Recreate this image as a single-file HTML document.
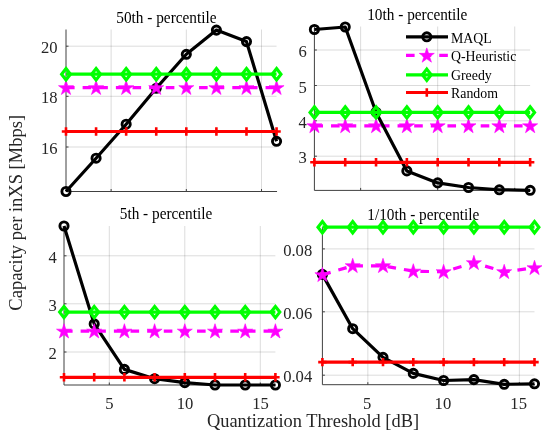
<!DOCTYPE html>
<html><head><meta charset="utf-8"><title>Capacity per inXS</title>
<style>html,body{margin:0;padding:0;background:#fff;overflow:hidden}svg{display:block}text{font-family:"Liberation Serif", "Times New Roman", serif}</style>
</head><body>
<svg width="550" height="433" viewBox="0 0 550 433">
<rect width="550" height="433" fill="#fff"/>
<line x1="111.12" y1="29.5" x2="111.12" y2="191.5" stroke="#000" stroke-opacity="0.14" stroke-width="1"/>
<line x1="186.32" y1="29.5" x2="186.32" y2="191.5" stroke="#000" stroke-opacity="0.14" stroke-width="1"/>
<line x1="261.52" y1="29.5" x2="261.52" y2="191.5" stroke="#000" stroke-opacity="0.14" stroke-width="1"/>
<line x1="66" y1="46.2" x2="276.56" y2="46.2" stroke="#000" stroke-opacity="0.14" stroke-width="1"/>
<line x1="66" y1="96.3" x2="276.56" y2="96.3" stroke="#000" stroke-opacity="0.14" stroke-width="1"/>
<line x1="66" y1="147" x2="276.56" y2="147" stroke="#000" stroke-opacity="0.14" stroke-width="1"/>
<path d="M66 29.5V191.5H277.06" fill="none" stroke="#404040" stroke-width="1"/>
<line x1="111.12" y1="191.5" x2="111.12" y2="189" stroke="#404040" stroke-width="1"/>
<line x1="186.32" y1="191.5" x2="186.32" y2="189" stroke="#404040" stroke-width="1"/>
<line x1="261.52" y1="191.5" x2="261.52" y2="189" stroke="#404040" stroke-width="1"/>
<line x1="66" y1="46.2" x2="68.5" y2="46.2" stroke="#404040" stroke-width="1"/>
<text transform="translate(57.5 53.2) scale(1 1.07)" font-size="16.6" text-anchor="end" fill="#262626">20</text>
<line x1="66" y1="96.3" x2="68.5" y2="96.3" stroke="#404040" stroke-width="1"/>
<text transform="translate(57.5 103.3) scale(1 1.07)" font-size="16.6" text-anchor="end" fill="#262626">18</text>
<line x1="66" y1="147" x2="68.5" y2="147" stroke="#404040" stroke-width="1"/>
<text transform="translate(57.5 154) scale(1 1.07)" font-size="16.6" text-anchor="end" fill="#262626">16</text>
<text transform="translate(166.4 23) scale(1 1.07)" font-size="15.3" text-anchor="middle" fill="#000">50th - percentile</text>
<path d="M66 191.5L96.08 158.2L126.16 124.2L156.24 88.3L186.32 54.3L216.4 30.1L246.48 41.6L276.56 141.3" fill="none" stroke="#000" stroke-width="3.2" stroke-linejoin="round"/>
<circle cx="66" cy="191.5" r="4.1" fill="none" stroke="#000" stroke-width="2.9"/>
<circle cx="96.08" cy="158.2" r="4.1" fill="none" stroke="#000" stroke-width="2.9"/>
<circle cx="126.16" cy="124.2" r="4.1" fill="none" stroke="#000" stroke-width="2.9"/>
<circle cx="156.24" cy="88.3" r="4.1" fill="none" stroke="#000" stroke-width="2.9"/>
<circle cx="186.32" cy="54.3" r="4.1" fill="none" stroke="#000" stroke-width="2.9"/>
<circle cx="216.4" cy="30.1" r="4.1" fill="none" stroke="#000" stroke-width="2.9"/>
<circle cx="246.48" cy="41.6" r="4.1" fill="none" stroke="#000" stroke-width="2.9"/>
<circle cx="276.56" cy="141.3" r="4.1" fill="none" stroke="#000" stroke-width="2.9"/>
<path d="M66 87.7L96.08 87.7L126.16 87.7L156.24 87.7L186.32 87.7L216.4 87.7L246.48 87.7L276.56 87.7" fill="none" stroke="#ff00ff" stroke-width="3.2" stroke-linejoin="round" stroke-dasharray="8.6 8.03"/>
<polygon points="66,80.2 67.77,85.66 73.51,85.66 68.87,89.03 70.64,94.49 66,91.12 61.36,94.49 63.13,89.03 58.49,85.66 64.23,85.66" fill="#ff00ff" stroke="#ff00ff" stroke-width="0.6"/>
<polygon points="96.08,80.2 97.85,85.66 103.59,85.66 98.95,89.03 100.72,94.49 96.08,91.12 91.44,94.49 93.21,89.03 88.57,85.66 94.31,85.66" fill="#ff00ff" stroke="#ff00ff" stroke-width="0.6"/>
<polygon points="126.16,80.2 127.93,85.66 133.67,85.66 129.03,89.03 130.8,94.49 126.16,91.12 121.52,94.49 123.29,89.03 118.65,85.66 124.39,85.66" fill="#ff00ff" stroke="#ff00ff" stroke-width="0.6"/>
<polygon points="156.24,80.2 158.01,85.66 163.75,85.66 159.11,89.03 160.88,94.49 156.24,91.12 151.6,94.49 153.37,89.03 148.73,85.66 154.47,85.66" fill="#ff00ff" stroke="#ff00ff" stroke-width="0.6"/>
<polygon points="186.32,80.2 188.09,85.66 193.83,85.66 189.19,89.03 190.96,94.49 186.32,91.12 181.68,94.49 183.45,89.03 178.81,85.66 184.55,85.66" fill="#ff00ff" stroke="#ff00ff" stroke-width="0.6"/>
<polygon points="216.4,80.2 218.17,85.66 223.91,85.66 219.27,89.03 221.04,94.49 216.4,91.12 211.76,94.49 213.53,89.03 208.89,85.66 214.63,85.66" fill="#ff00ff" stroke="#ff00ff" stroke-width="0.6"/>
<polygon points="246.48,80.2 248.25,85.66 253.99,85.66 249.35,89.03 251.12,94.49 246.48,91.12 241.84,94.49 243.61,89.03 238.97,85.66 244.71,85.66" fill="#ff00ff" stroke="#ff00ff" stroke-width="0.6"/>
<polygon points="276.56,80.2 278.33,85.66 284.07,85.66 279.43,89.03 281.2,94.49 276.56,91.12 271.92,94.49 273.69,89.03 269.05,85.66 274.79,85.66" fill="#ff00ff" stroke="#ff00ff" stroke-width="0.6"/>
<path d="M66 74.2L96.08 74.2L126.16 74.2L156.24 74.2L186.32 74.2L216.4 74.2L246.48 74.2L276.56 74.2" fill="none" stroke="#00ff00" stroke-width="3.2" stroke-linejoin="round"/>
<path d="M66 68.55L70.4 74.2L66 79.85L61.6 74.2Z" fill="none" stroke="#00ff00" stroke-width="3.15" stroke-linejoin="miter"/>
<path d="M96.08 68.55L100.48 74.2L96.08 79.85L91.68 74.2Z" fill="none" stroke="#00ff00" stroke-width="3.15" stroke-linejoin="miter"/>
<path d="M126.16 68.55L130.56 74.2L126.16 79.85L121.76 74.2Z" fill="none" stroke="#00ff00" stroke-width="3.15" stroke-linejoin="miter"/>
<path d="M156.24 68.55L160.64 74.2L156.24 79.85L151.84 74.2Z" fill="none" stroke="#00ff00" stroke-width="3.15" stroke-linejoin="miter"/>
<path d="M186.32 68.55L190.72 74.2L186.32 79.85L181.92 74.2Z" fill="none" stroke="#00ff00" stroke-width="3.15" stroke-linejoin="miter"/>
<path d="M216.4 68.55L220.8 74.2L216.4 79.85L212 74.2Z" fill="none" stroke="#00ff00" stroke-width="3.15" stroke-linejoin="miter"/>
<path d="M246.48 68.55L250.88 74.2L246.48 79.85L242.08 74.2Z" fill="none" stroke="#00ff00" stroke-width="3.15" stroke-linejoin="miter"/>
<path d="M276.56 68.55L280.96 74.2L276.56 79.85L272.16 74.2Z" fill="none" stroke="#00ff00" stroke-width="3.15" stroke-linejoin="miter"/>
<path d="M66 131.5L96.08 131.5L126.16 131.5L156.24 131.5L186.32 131.5L216.4 131.5L246.48 131.5L276.56 131.5" fill="none" stroke="#ff0000" stroke-width="3.2" stroke-linejoin="round"/>
<path d="M61.8 131.5H70.2M66 127.3V135.7" fill="none" stroke="#ff0000" stroke-width="2.6"/>
<path d="M91.88 131.5H100.28M96.08 127.3V135.7" fill="none" stroke="#ff0000" stroke-width="2.6"/>
<path d="M121.96 131.5H130.36M126.16 127.3V135.7" fill="none" stroke="#ff0000" stroke-width="2.6"/>
<path d="M152.04 131.5H160.44M156.24 127.3V135.7" fill="none" stroke="#ff0000" stroke-width="2.6"/>
<path d="M182.12 131.5H190.52M186.32 127.3V135.7" fill="none" stroke="#ff0000" stroke-width="2.6"/>
<path d="M212.2 131.5H220.6M216.4 127.3V135.7" fill="none" stroke="#ff0000" stroke-width="2.6"/>
<path d="M242.28 131.5H250.68M246.48 127.3V135.7" fill="none" stroke="#ff0000" stroke-width="2.6"/>
<path d="M272.36 131.5H280.76M276.56 127.3V135.7" fill="none" stroke="#ff0000" stroke-width="2.6"/>
<line x1="360.63" y1="26.5" x2="360.63" y2="190.4" stroke="#000" stroke-opacity="0.14" stroke-width="1"/>
<line x1="437.68" y1="26.5" x2="437.68" y2="190.4" stroke="#000" stroke-opacity="0.14" stroke-width="1"/>
<line x1="514.73" y1="26.5" x2="514.73" y2="190.4" stroke="#000" stroke-opacity="0.14" stroke-width="1"/>
<line x1="314.4" y1="50" x2="530.14" y2="50" stroke="#000" stroke-opacity="0.14" stroke-width="1"/>
<line x1="314.4" y1="85.5" x2="530.14" y2="85.5" stroke="#000" stroke-opacity="0.14" stroke-width="1"/>
<line x1="314.4" y1="120.8" x2="530.14" y2="120.8" stroke="#000" stroke-opacity="0.14" stroke-width="1"/>
<line x1="314.4" y1="156.2" x2="530.14" y2="156.2" stroke="#000" stroke-opacity="0.14" stroke-width="1"/>
<path d="M314.4 26.5V190.4H530.64" fill="none" stroke="#404040" stroke-width="1"/>
<line x1="360.63" y1="190.4" x2="360.63" y2="187.9" stroke="#404040" stroke-width="1"/>
<line x1="437.68" y1="190.4" x2="437.68" y2="187.9" stroke="#404040" stroke-width="1"/>
<line x1="514.73" y1="190.4" x2="514.73" y2="187.9" stroke="#404040" stroke-width="1"/>
<line x1="314.4" y1="50" x2="316.9" y2="50" stroke="#404040" stroke-width="1"/>
<text transform="translate(306.8 57) scale(1 1.07)" font-size="16.6" text-anchor="end" fill="#262626">6</text>
<line x1="314.4" y1="85.5" x2="316.9" y2="85.5" stroke="#404040" stroke-width="1"/>
<text transform="translate(306.8 92.5) scale(1 1.07)" font-size="16.6" text-anchor="end" fill="#262626">5</text>
<line x1="314.4" y1="120.8" x2="316.9" y2="120.8" stroke="#404040" stroke-width="1"/>
<text transform="translate(306.8 127.8) scale(1 1.07)" font-size="16.6" text-anchor="end" fill="#262626">4</text>
<line x1="314.4" y1="156.2" x2="316.9" y2="156.2" stroke="#404040" stroke-width="1"/>
<text transform="translate(306.8 163.2) scale(1 1.07)" font-size="16.6" text-anchor="end" fill="#262626">3</text>
<text transform="translate(417.3 20) scale(1 1.07)" font-size="15.3" text-anchor="middle" fill="#000">10th - percentile</text>
<path d="M314.4 125.9L345.22 125.9L376.04 125.9L406.86 125.9L437.68 125.9L468.5 125.9L499.32 125.9L530.14 125.9" fill="none" stroke="#ff00ff" stroke-width="3.2" stroke-linejoin="round" stroke-dasharray="8.6 8.03"/>
<polygon points="314.4,118.4 316.17,123.86 321.91,123.86 317.27,127.23 319.04,132.69 314.4,129.32 309.76,132.69 311.53,127.23 306.89,123.86 312.63,123.86" fill="#ff00ff" stroke="#ff00ff" stroke-width="0.6"/>
<polygon points="345.22,118.4 346.99,123.86 352.73,123.86 348.09,127.23 349.86,132.69 345.22,129.32 340.58,132.69 342.35,127.23 337.71,123.86 343.45,123.86" fill="#ff00ff" stroke="#ff00ff" stroke-width="0.6"/>
<polygon points="376.04,118.4 377.81,123.86 383.55,123.86 378.91,127.23 380.68,132.69 376.04,129.32 371.4,132.69 373.17,127.23 368.53,123.86 374.27,123.86" fill="#ff00ff" stroke="#ff00ff" stroke-width="0.6"/>
<polygon points="406.86,118.4 408.63,123.86 414.37,123.86 409.73,127.23 411.5,132.69 406.86,129.32 402.22,132.69 403.99,127.23 399.35,123.86 405.09,123.86" fill="#ff00ff" stroke="#ff00ff" stroke-width="0.6"/>
<polygon points="437.68,118.4 439.45,123.86 445.19,123.86 440.55,127.23 442.32,132.69 437.68,129.32 433.04,132.69 434.81,127.23 430.17,123.86 435.91,123.86" fill="#ff00ff" stroke="#ff00ff" stroke-width="0.6"/>
<polygon points="468.5,118.4 470.27,123.86 476.01,123.86 471.37,127.23 473.14,132.69 468.5,129.32 463.86,132.69 465.63,127.23 460.99,123.86 466.73,123.86" fill="#ff00ff" stroke="#ff00ff" stroke-width="0.6"/>
<polygon points="499.32,118.4 501.09,123.86 506.83,123.86 502.19,127.23 503.96,132.69 499.32,129.32 494.68,132.69 496.45,127.23 491.81,123.86 497.55,123.86" fill="#ff00ff" stroke="#ff00ff" stroke-width="0.6"/>
<polygon points="530.14,118.4 531.91,123.86 537.65,123.86 533.01,127.23 534.78,132.69 530.14,129.32 525.5,132.69 527.27,127.23 522.63,123.86 528.37,123.86" fill="#ff00ff" stroke="#ff00ff" stroke-width="0.6"/>
<path d="M314.4 29.5L345.22 27L376.04 112.2L406.86 170.9L437.68 182.9L468.5 187.5L499.32 189.8L530.14 190.3" fill="none" stroke="#000" stroke-width="3.2" stroke-linejoin="round"/>
<circle cx="314.4" cy="29.5" r="4.1" fill="none" stroke="#000" stroke-width="2.9"/>
<circle cx="345.22" cy="27" r="4.1" fill="none" stroke="#000" stroke-width="2.9"/>
<circle cx="376.04" cy="112.2" r="4.1" fill="none" stroke="#000" stroke-width="2.9"/>
<circle cx="406.86" cy="170.9" r="4.1" fill="none" stroke="#000" stroke-width="2.9"/>
<circle cx="437.68" cy="182.9" r="4.1" fill="none" stroke="#000" stroke-width="2.9"/>
<circle cx="468.5" cy="187.5" r="4.1" fill="none" stroke="#000" stroke-width="2.9"/>
<circle cx="499.32" cy="189.8" r="4.1" fill="none" stroke="#000" stroke-width="2.9"/>
<circle cx="530.14" cy="190.3" r="4.1" fill="none" stroke="#000" stroke-width="2.9"/>
<path d="M314.4 112.4L345.22 112.4L376.04 112.4L406.86 112.4L437.68 112.4L468.5 112.4L499.32 112.4L530.14 112.4" fill="none" stroke="#00ff00" stroke-width="3.2" stroke-linejoin="round"/>
<path d="M314.4 106.75L318.8 112.4L314.4 118.05L310 112.4Z" fill="none" stroke="#00ff00" stroke-width="3.15" stroke-linejoin="miter"/>
<path d="M345.22 106.75L349.62 112.4L345.22 118.05L340.82 112.4Z" fill="none" stroke="#00ff00" stroke-width="3.15" stroke-linejoin="miter"/>
<path d="M376.04 106.75L380.44 112.4L376.04 118.05L371.64 112.4Z" fill="none" stroke="#00ff00" stroke-width="3.15" stroke-linejoin="miter"/>
<path d="M406.86 106.75L411.26 112.4L406.86 118.05L402.46 112.4Z" fill="none" stroke="#00ff00" stroke-width="3.15" stroke-linejoin="miter"/>
<path d="M437.68 106.75L442.08 112.4L437.68 118.05L433.28 112.4Z" fill="none" stroke="#00ff00" stroke-width="3.15" stroke-linejoin="miter"/>
<path d="M468.5 106.75L472.9 112.4L468.5 118.05L464.1 112.4Z" fill="none" stroke="#00ff00" stroke-width="3.15" stroke-linejoin="miter"/>
<path d="M499.32 106.75L503.72 112.4L499.32 118.05L494.92 112.4Z" fill="none" stroke="#00ff00" stroke-width="3.15" stroke-linejoin="miter"/>
<path d="M530.14 106.75L534.54 112.4L530.14 118.05L525.74 112.4Z" fill="none" stroke="#00ff00" stroke-width="3.15" stroke-linejoin="miter"/>
<path d="M314.4 162.3L345.22 162.3L376.04 162.3L406.86 162.3L437.68 162.3L468.5 162.3L499.32 162.3L530.14 162.3" fill="none" stroke="#ff0000" stroke-width="3.2" stroke-linejoin="round"/>
<path d="M310.2 162.3H318.6M314.4 158.1V166.5" fill="none" stroke="#ff0000" stroke-width="2.6"/>
<path d="M341.02 162.3H349.42M345.22 158.1V166.5" fill="none" stroke="#ff0000" stroke-width="2.6"/>
<path d="M371.84 162.3H380.24M376.04 158.1V166.5" fill="none" stroke="#ff0000" stroke-width="2.6"/>
<path d="M402.66 162.3H411.06M406.86 158.1V166.5" fill="none" stroke="#ff0000" stroke-width="2.6"/>
<path d="M433.48 162.3H441.88M437.68 158.1V166.5" fill="none" stroke="#ff0000" stroke-width="2.6"/>
<path d="M464.3 162.3H472.7M468.5 158.1V166.5" fill="none" stroke="#ff0000" stroke-width="2.6"/>
<path d="M495.12 162.3H503.52M499.32 158.1V166.5" fill="none" stroke="#ff0000" stroke-width="2.6"/>
<path d="M525.94 162.3H534.34M530.14 158.1V166.5" fill="none" stroke="#ff0000" stroke-width="2.6"/>
<line x1="109.3" y1="226" x2="109.3" y2="385" stroke="#000" stroke-opacity="0.14" stroke-width="1"/>
<line x1="184.8" y1="226" x2="184.8" y2="385" stroke="#000" stroke-opacity="0.14" stroke-width="1"/>
<line x1="260.3" y1="226" x2="260.3" y2="385" stroke="#000" stroke-opacity="0.14" stroke-width="1"/>
<line x1="64" y1="255.8" x2="275.4" y2="255.8" stroke="#000" stroke-opacity="0.14" stroke-width="1"/>
<line x1="64" y1="303.8" x2="275.4" y2="303.8" stroke="#000" stroke-opacity="0.14" stroke-width="1"/>
<line x1="64" y1="352" x2="275.4" y2="352" stroke="#000" stroke-opacity="0.14" stroke-width="1"/>
<path d="M64 226V385H275.9" fill="none" stroke="#404040" stroke-width="1"/>
<line x1="109.3" y1="385" x2="109.3" y2="382.5" stroke="#404040" stroke-width="1"/>
<line x1="184.8" y1="385" x2="184.8" y2="382.5" stroke="#404040" stroke-width="1"/>
<line x1="260.3" y1="385" x2="260.3" y2="382.5" stroke="#404040" stroke-width="1"/>
<line x1="64" y1="255.8" x2="66.5" y2="255.8" stroke="#404040" stroke-width="1"/>
<text transform="translate(56.8 262.8) scale(1 1.07)" font-size="16.6" text-anchor="end" fill="#262626">4</text>
<line x1="64" y1="303.8" x2="66.5" y2="303.8" stroke="#404040" stroke-width="1"/>
<text transform="translate(56.8 310.8) scale(1 1.07)" font-size="16.6" text-anchor="end" fill="#262626">3</text>
<line x1="64" y1="352" x2="66.5" y2="352" stroke="#404040" stroke-width="1"/>
<text transform="translate(56.8 359) scale(1 1.07)" font-size="16.6" text-anchor="end" fill="#262626">2</text>
<text transform="translate(109.5 408.8) scale(1 1.07)" font-size="16.6" text-anchor="middle" fill="#262626">5</text>
<text transform="translate(185 408.8) scale(1 1.07)" font-size="16.6" text-anchor="middle" fill="#262626">10</text>
<text transform="translate(260.5 408.8) scale(1 1.07)" font-size="16.6" text-anchor="middle" fill="#262626">15</text>
<text transform="translate(166 219.2) scale(1 1.07)" font-size="15.3" text-anchor="middle" fill="#000">5th - percentile</text>
<path d="M64 226L94.2 323.9L124.4 369.4L154.6 378.7L184.8 382.7L215 385L245.2 385L275.4 385" fill="none" stroke="#000" stroke-width="3.2" stroke-linejoin="round"/>
<circle cx="64" cy="226" r="4.1" fill="none" stroke="#000" stroke-width="2.9"/>
<circle cx="94.2" cy="323.9" r="4.1" fill="none" stroke="#000" stroke-width="2.9"/>
<circle cx="124.4" cy="369.4" r="4.1" fill="none" stroke="#000" stroke-width="2.9"/>
<circle cx="154.6" cy="378.7" r="4.1" fill="none" stroke="#000" stroke-width="2.9"/>
<circle cx="184.8" cy="382.7" r="4.1" fill="none" stroke="#000" stroke-width="2.9"/>
<circle cx="215" cy="385" r="4.1" fill="none" stroke="#000" stroke-width="2.9"/>
<circle cx="245.2" cy="385" r="4.1" fill="none" stroke="#000" stroke-width="2.9"/>
<circle cx="275.4" cy="385" r="4.1" fill="none" stroke="#000" stroke-width="2.9"/>
<path d="M64 331.2L94.2 331.2L124.4 331.2L154.6 331.2L184.8 331.2L215 331.2L245.2 331.2L275.4 331.2" fill="none" stroke="#ff00ff" stroke-width="3.2" stroke-linejoin="round" stroke-dasharray="8.6 8.03"/>
<polygon points="64,323.7 65.77,329.16 71.51,329.16 66.87,332.53 68.64,337.99 64,334.62 59.36,337.99 61.13,332.53 56.49,329.16 62.23,329.16" fill="#ff00ff" stroke="#ff00ff" stroke-width="0.6"/>
<polygon points="94.2,323.7 95.97,329.16 101.71,329.16 97.07,332.53 98.84,337.99 94.2,334.62 89.56,337.99 91.33,332.53 86.69,329.16 92.43,329.16" fill="#ff00ff" stroke="#ff00ff" stroke-width="0.6"/>
<polygon points="124.4,323.7 126.17,329.16 131.91,329.16 127.27,332.53 129.04,337.99 124.4,334.62 119.76,337.99 121.53,332.53 116.89,329.16 122.63,329.16" fill="#ff00ff" stroke="#ff00ff" stroke-width="0.6"/>
<polygon points="154.6,323.7 156.37,329.16 162.11,329.16 157.47,332.53 159.24,337.99 154.6,334.62 149.96,337.99 151.73,332.53 147.09,329.16 152.83,329.16" fill="#ff00ff" stroke="#ff00ff" stroke-width="0.6"/>
<polygon points="184.8,323.7 186.57,329.16 192.31,329.16 187.67,332.53 189.44,337.99 184.8,334.62 180.16,337.99 181.93,332.53 177.29,329.16 183.03,329.16" fill="#ff00ff" stroke="#ff00ff" stroke-width="0.6"/>
<polygon points="215,323.7 216.77,329.16 222.51,329.16 217.87,332.53 219.64,337.99 215,334.62 210.36,337.99 212.13,332.53 207.49,329.16 213.23,329.16" fill="#ff00ff" stroke="#ff00ff" stroke-width="0.6"/>
<polygon points="245.2,323.7 246.97,329.16 252.71,329.16 248.07,332.53 249.84,337.99 245.2,334.62 240.56,337.99 242.33,332.53 237.69,329.16 243.43,329.16" fill="#ff00ff" stroke="#ff00ff" stroke-width="0.6"/>
<polygon points="275.4,323.7 277.17,329.16 282.91,329.16 278.27,332.53 280.04,337.99 275.4,334.62 270.76,337.99 272.53,332.53 267.89,329.16 273.63,329.16" fill="#ff00ff" stroke="#ff00ff" stroke-width="0.6"/>
<path d="M64 312.1L94.2 312.1L124.4 312.1L154.6 312.1L184.8 312.1L215 312.1L245.2 312.1L275.4 312.1" fill="none" stroke="#00ff00" stroke-width="3.2" stroke-linejoin="round"/>
<path d="M64 306.45L68.4 312.1L64 317.75L59.6 312.1Z" fill="none" stroke="#00ff00" stroke-width="3.15" stroke-linejoin="miter"/>
<path d="M94.2 306.45L98.6 312.1L94.2 317.75L89.8 312.1Z" fill="none" stroke="#00ff00" stroke-width="3.15" stroke-linejoin="miter"/>
<path d="M124.4 306.45L128.8 312.1L124.4 317.75L120 312.1Z" fill="none" stroke="#00ff00" stroke-width="3.15" stroke-linejoin="miter"/>
<path d="M154.6 306.45L159 312.1L154.6 317.75L150.2 312.1Z" fill="none" stroke="#00ff00" stroke-width="3.15" stroke-linejoin="miter"/>
<path d="M184.8 306.45L189.2 312.1L184.8 317.75L180.4 312.1Z" fill="none" stroke="#00ff00" stroke-width="3.15" stroke-linejoin="miter"/>
<path d="M215 306.45L219.4 312.1L215 317.75L210.6 312.1Z" fill="none" stroke="#00ff00" stroke-width="3.15" stroke-linejoin="miter"/>
<path d="M245.2 306.45L249.6 312.1L245.2 317.75L240.8 312.1Z" fill="none" stroke="#00ff00" stroke-width="3.15" stroke-linejoin="miter"/>
<path d="M275.4 306.45L279.8 312.1L275.4 317.75L271 312.1Z" fill="none" stroke="#00ff00" stroke-width="3.15" stroke-linejoin="miter"/>
<path d="M64 377.3L94.2 377.3L124.4 377.3L154.6 377.3L184.8 377.3L215 377.3L245.2 377.3L275.4 377.3" fill="none" stroke="#ff0000" stroke-width="3.2" stroke-linejoin="round"/>
<path d="M59.8 377.3H68.2M64 373.1V381.5" fill="none" stroke="#ff0000" stroke-width="2.6"/>
<path d="M90 377.3H98.4M94.2 373.1V381.5" fill="none" stroke="#ff0000" stroke-width="2.6"/>
<path d="M120.2 377.3H128.6M124.4 373.1V381.5" fill="none" stroke="#ff0000" stroke-width="2.6"/>
<path d="M150.4 377.3H158.8M154.6 373.1V381.5" fill="none" stroke="#ff0000" stroke-width="2.6"/>
<path d="M180.6 377.3H189M184.8 373.1V381.5" fill="none" stroke="#ff0000" stroke-width="2.6"/>
<path d="M210.8 377.3H219.2M215 373.1V381.5" fill="none" stroke="#ff0000" stroke-width="2.6"/>
<path d="M241 377.3H249.4M245.2 373.1V381.5" fill="none" stroke="#ff0000" stroke-width="2.6"/>
<path d="M271.2 377.3H279.6M275.4 373.1V381.5" fill="none" stroke="#ff0000" stroke-width="2.6"/>
<line x1="367.85" y1="227.2" x2="367.85" y2="384.7" stroke="#000" stroke-opacity="0.14" stroke-width="1"/>
<line x1="443.6" y1="227.2" x2="443.6" y2="384.7" stroke="#000" stroke-opacity="0.14" stroke-width="1"/>
<line x1="519.35" y1="227.2" x2="519.35" y2="384.7" stroke="#000" stroke-opacity="0.14" stroke-width="1"/>
<line x1="322.4" y1="248.9" x2="534.5" y2="248.9" stroke="#000" stroke-opacity="0.14" stroke-width="1"/>
<line x1="322.4" y1="311.8" x2="534.5" y2="311.8" stroke="#000" stroke-opacity="0.14" stroke-width="1"/>
<line x1="322.4" y1="375.2" x2="534.5" y2="375.2" stroke="#000" stroke-opacity="0.14" stroke-width="1"/>
<path d="M322.4 227.2V384.7H535" fill="none" stroke="#404040" stroke-width="1"/>
<line x1="367.85" y1="384.7" x2="367.85" y2="382.2" stroke="#404040" stroke-width="1"/>
<line x1="443.6" y1="384.7" x2="443.6" y2="382.2" stroke="#404040" stroke-width="1"/>
<line x1="519.35" y1="384.7" x2="519.35" y2="382.2" stroke="#404040" stroke-width="1"/>
<line x1="322.4" y1="248.9" x2="324.9" y2="248.9" stroke="#404040" stroke-width="1"/>
<text transform="translate(312.2 255.9) scale(1 1.07)" font-size="16.6" text-anchor="end" fill="#262626">0.08</text>
<line x1="322.4" y1="311.8" x2="324.9" y2="311.8" stroke="#404040" stroke-width="1"/>
<text transform="translate(312.2 318.8) scale(1 1.07)" font-size="16.6" text-anchor="end" fill="#262626">0.06</text>
<line x1="322.4" y1="375.2" x2="324.9" y2="375.2" stroke="#404040" stroke-width="1"/>
<text transform="translate(312.2 382.2) scale(1 1.07)" font-size="16.6" text-anchor="end" fill="#262626">0.04</text>
<text transform="translate(367.15 408.8) scale(1 1.07)" font-size="16.6" text-anchor="middle" fill="#262626">5</text>
<text transform="translate(442.9 408.8) scale(1 1.07)" font-size="16.6" text-anchor="middle" fill="#262626">10</text>
<text transform="translate(518.65 408.8) scale(1 1.07)" font-size="16.6" text-anchor="middle" fill="#262626">15</text>
<text transform="translate(423.3 219.7) scale(1 1.07)" font-size="15.3" text-anchor="middle" fill="#000">1/10th - percentile</text>
<path d="M322.4 274.4L352.7 328.7L383 357.3L413.3 373.4L443.6 380.5L473.9 379.6L504.2 384.3L534.5 383.8" fill="none" stroke="#000" stroke-width="3.2" stroke-linejoin="round"/>
<circle cx="322.4" cy="274.4" r="4.1" fill="none" stroke="#000" stroke-width="2.9"/>
<circle cx="352.7" cy="328.7" r="4.1" fill="none" stroke="#000" stroke-width="2.9"/>
<circle cx="383" cy="357.3" r="4.1" fill="none" stroke="#000" stroke-width="2.9"/>
<circle cx="413.3" cy="373.4" r="4.1" fill="none" stroke="#000" stroke-width="2.9"/>
<circle cx="443.6" cy="380.5" r="4.1" fill="none" stroke="#000" stroke-width="2.9"/>
<circle cx="473.9" cy="379.6" r="4.1" fill="none" stroke="#000" stroke-width="2.9"/>
<circle cx="504.2" cy="384.3" r="4.1" fill="none" stroke="#000" stroke-width="2.9"/>
<circle cx="534.5" cy="383.8" r="4.1" fill="none" stroke="#000" stroke-width="2.9"/>
<path d="M322.4 274.8L352.7 265.8L383 265.8L413.3 271.2L443.6 271.8L473.9 262.8L504.2 271.8L534.5 267.8" fill="none" stroke="#ff00ff" stroke-width="3.2" stroke-linejoin="round" stroke-dasharray="8.6 8.03"/>
<polygon points="322.4,267.3 324.17,272.76 329.91,272.76 325.27,276.13 327.04,281.59 322.4,278.22 317.76,281.59 319.53,276.13 314.89,272.76 320.63,272.76" fill="#ff00ff" stroke="#ff00ff" stroke-width="0.6"/>
<polygon points="352.7,258.3 354.47,263.76 360.21,263.76 355.57,267.13 357.34,272.59 352.7,269.22 348.06,272.59 349.83,267.13 345.19,263.76 350.93,263.76" fill="#ff00ff" stroke="#ff00ff" stroke-width="0.6"/>
<polygon points="383,258.3 384.77,263.76 390.51,263.76 385.87,267.13 387.64,272.59 383,269.22 378.36,272.59 380.13,267.13 375.49,263.76 381.23,263.76" fill="#ff00ff" stroke="#ff00ff" stroke-width="0.6"/>
<polygon points="413.3,263.7 415.07,269.16 420.81,269.16 416.17,272.53 417.94,277.99 413.3,274.62 408.66,277.99 410.43,272.53 405.79,269.16 411.53,269.16" fill="#ff00ff" stroke="#ff00ff" stroke-width="0.6"/>
<polygon points="443.6,264.3 445.37,269.76 451.11,269.76 446.47,273.13 448.24,278.59 443.6,275.22 438.96,278.59 440.73,273.13 436.09,269.76 441.83,269.76" fill="#ff00ff" stroke="#ff00ff" stroke-width="0.6"/>
<polygon points="473.9,255.3 475.67,260.76 481.41,260.76 476.77,264.13 478.54,269.59 473.9,266.22 469.26,269.59 471.03,264.13 466.39,260.76 472.13,260.76" fill="#ff00ff" stroke="#ff00ff" stroke-width="0.6"/>
<polygon points="504.2,264.3 505.97,269.76 511.71,269.76 507.07,273.13 508.84,278.59 504.2,275.22 499.56,278.59 501.33,273.13 496.69,269.76 502.43,269.76" fill="#ff00ff" stroke="#ff00ff" stroke-width="0.6"/>
<polygon points="534.5,260.3 536.27,265.76 542.01,265.76 537.37,269.13 539.14,274.59 534.5,271.22 529.86,274.59 531.63,269.13 526.99,265.76 532.73,265.76" fill="#ff00ff" stroke="#ff00ff" stroke-width="0.6"/>
<path d="M322.4 227.2L352.7 227.2L383 227.2L413.3 227.2L443.6 227.2L473.9 227.2L504.2 227.2L534.5 227.2" fill="none" stroke="#00ff00" stroke-width="3.2" stroke-linejoin="round"/>
<path d="M322.4 221.55L326.8 227.2L322.4 232.85L318 227.2Z" fill="none" stroke="#00ff00" stroke-width="3.15" stroke-linejoin="miter"/>
<path d="M352.7 221.55L357.1 227.2L352.7 232.85L348.3 227.2Z" fill="none" stroke="#00ff00" stroke-width="3.15" stroke-linejoin="miter"/>
<path d="M383 221.55L387.4 227.2L383 232.85L378.6 227.2Z" fill="none" stroke="#00ff00" stroke-width="3.15" stroke-linejoin="miter"/>
<path d="M413.3 221.55L417.7 227.2L413.3 232.85L408.9 227.2Z" fill="none" stroke="#00ff00" stroke-width="3.15" stroke-linejoin="miter"/>
<path d="M443.6 221.55L448 227.2L443.6 232.85L439.2 227.2Z" fill="none" stroke="#00ff00" stroke-width="3.15" stroke-linejoin="miter"/>
<path d="M473.9 221.55L478.3 227.2L473.9 232.85L469.5 227.2Z" fill="none" stroke="#00ff00" stroke-width="3.15" stroke-linejoin="miter"/>
<path d="M504.2 221.55L508.6 227.2L504.2 232.85L499.8 227.2Z" fill="none" stroke="#00ff00" stroke-width="3.15" stroke-linejoin="miter"/>
<path d="M534.5 221.55L538.9 227.2L534.5 232.85L530.1 227.2Z" fill="none" stroke="#00ff00" stroke-width="3.15" stroke-linejoin="miter"/>
<path d="M322.4 362.1L352.7 362.1L383 362.1L413.3 362.1L443.6 362.1L473.9 362.1L504.2 362.1L534.5 362.1" fill="none" stroke="#ff0000" stroke-width="3.2" stroke-linejoin="round"/>
<path d="M318.2 362.1H326.6M322.4 357.9V366.3" fill="none" stroke="#ff0000" stroke-width="2.6"/>
<path d="M348.5 362.1H356.9M352.7 357.9V366.3" fill="none" stroke="#ff0000" stroke-width="2.6"/>
<path d="M378.8 362.1H387.2M383 357.9V366.3" fill="none" stroke="#ff0000" stroke-width="2.6"/>
<path d="M409.1 362.1H417.5M413.3 357.9V366.3" fill="none" stroke="#ff0000" stroke-width="2.6"/>
<path d="M439.4 362.1H447.8M443.6 357.9V366.3" fill="none" stroke="#ff0000" stroke-width="2.6"/>
<path d="M469.7 362.1H478.1M473.9 357.9V366.3" fill="none" stroke="#ff0000" stroke-width="2.6"/>
<path d="M500 362.1H508.4M504.2 357.9V366.3" fill="none" stroke="#ff0000" stroke-width="2.6"/>
<path d="M530.3 362.1H538.7M534.5 357.9V366.3" fill="none" stroke="#ff0000" stroke-width="2.6"/>
<path d="M406 36.8L448 36.8" fill="none" stroke="#000" stroke-width="3.2" stroke-linejoin="round"/>
<circle cx="426.8" cy="36.8" r="4.1" fill="none" stroke="#000" stroke-width="2.9"/>
<path d="M406 55.4L448 55.4" fill="none" stroke="#ff00ff" stroke-width="3.2" stroke-linejoin="round" stroke-dasharray="8.6 8.03"/>
<polygon points="426.8,47.9 428.57,53.36 434.31,53.36 429.67,56.73 431.44,62.19 426.8,58.82 422.16,62.19 423.93,56.73 419.29,53.36 425.03,53.36" fill="#ff00ff" stroke="#ff00ff" stroke-width="0.6"/>
<path d="M406 74.8L448 74.8" fill="none" stroke="#00ff00" stroke-width="3.2" stroke-linejoin="round"/>
<path d="M426.8 69.15L431.2 74.8L426.8 80.45L422.4 74.8Z" fill="none" stroke="#00ff00" stroke-width="3.15" stroke-linejoin="miter"/>
<path d="M406 92.5L448 92.5" fill="none" stroke="#ff0000" stroke-width="3.2" stroke-linejoin="round"/>
<path d="M422.6 92.5H431M426.8 88.3V96.7" fill="none" stroke="#ff0000" stroke-width="2.6"/>
<text x="451" y="43.2" font-size="13.85" fill="#000">MAQL</text>
<text x="451" y="61.1" font-size="13.85" fill="#000">Q-Heuristic</text>
<text x="451" y="80.1" font-size="13.85" fill="#000">Greedy</text>
<text x="451" y="98" font-size="13.85" fill="#000">Random</text>
<text x="313" y="426.9" font-size="18.4" text-anchor="middle" fill="#262626">Quantization Threshold [dB]</text>
<text transform="translate(21.8 212.8) rotate(-90)" font-size="18.5" text-anchor="middle" fill="#262626">Capacity per inXS [Mbps]</text>
</svg>
</body></html>
